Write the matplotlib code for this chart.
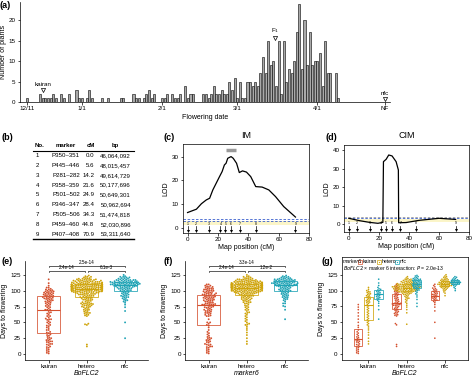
import warnings
import matplotlib
matplotlib.use("Agg")
import matplotlib.pyplot as plt
import pandas as pd
import seaborn as sns
from matplotlib.lines import Line2D

warnings.filterwarnings("ignore")
plt.rcParams["font.family"] = ["Liberation Sans", "DejaVu Sans"]

# (a) number of plants per flowering day (day 0 = 12/11)
n_plants = [1, 0, 0, 0, 0, 2, 1, 1, 1, 1, 2, 1, 0, 2, 1, 0, 2, 0, 0, 3,
            1, 1, 0, 1, 3, 1, 0, 0, 0, 1, 0, 1, 0, 0, 0, 0, 1, 1, 0, 0,
            0, 2, 1, 1, 0, 1, 2, 3, 1, 2, 0, 0, 1, 1, 2, 0, 2, 1, 1, 2,
            0, 4, 1, 2, 2, 0, 0, 0, 2, 2, 1, 2, 4, 2, 2, 3, 2, 2, 5, 3,
            6, 1, 5, 1, 1, 5, 5, 4, 5, 4, 7, 11, 7, 15, 9, 10, 4, 15, 2, 15,
            5, 8, 7, 10, 17, 24, 8, 20, 9, 17, 9, 10, 10, 12, 4, 15, 7, 7, 0, 7,
            1]
date_labels = ["12/11", "1/1", "2/1", "3/1", "4/1", "NF"]
date_days = [0, 21, 52, 81, 112, 138]
parent_names = ["kairan", "F$_1$", "nfc"]
parent_days = [6, 95.5, 138]
parent_marks = [3.0, 15.6, 0.9]

# (b) marker table
tab_no = ["1", "2", "3", "4", "5", "6", "7", "8", "9"]
tab_marker = ["P350\u2013351", "P445\u2013446", "P281\u2013282", "P358\u2013359", "P501\u2013502",
              "P346\u2013347", "P505\u2013506", "P459\u2013460", "P407\u2013408"]
tab_cm = [0.0, 5.6, 14.2, 21.6, 24.9, 28.4, 34.3, 44.8, 70.9]
tab_bp = ["46,064,092", "48,015,457", "49,614,729", "50,177,696", "50,649,301",
          "50,962,694", "51,474,818", "52,030,896", "53,311,640"]

# (c) interval mapping, (d) composite interval mapping
im_cm = [0, 5.8, 9.1, 12.3, 14.5, 16.6, 18.8, 21.0, 22.7, 24.2, 25.3, 26.4, 28.6, 30.0,
         32.2, 34.0, 36.1, 38.7, 41.5, 44.8, 49.0, 53.4, 57.8, 63.2, 70.9]
im_lod = [6.5, 7.9, 10.2, 11.8, 12.5, 16.0, 18.8, 21.6, 23.7, 26.5, 27.2, 29.3, 30.0, 29.3,
          27.2, 23.3, 24.0, 23.5, 21.6, 17.4, 17.2, 16.0, 13.2, 9.0, 4.6]
cim_cm = [0, 7.2, 13.8, 19.3, 22.6, 23.0, 24.8, 26.5, 28.7, 31.4, 32.9, 33.1, 38.0, 46.7, 59.9, 70.9]
cim_lod = [3.1, 1.8, 0.9, 0.4, 0.9, 33.7, 35.0, 37.3, 36.8, 33.7, 29.2, 0.7, 0.8, 2.0, 3.1, 2.5]
qtl_interval = [25.3, 31.8]

# (e)-(g) days to flowering, by BoFLC2 genotype x marker6 genotype
genotypes = ["kairan", "hetero", "nfc"]
days_k_k = [1, 2, 4, 5, 7, 8, 10, 11, 12, 14, 15, 16, 18, 19, 20, 21, 22, 23, 24, 26,
            27, 29, 31, 33, 35, 38, 42, 45, 50, 55, 60, 65, 70, 74, 78]
days_k_h = [16, 20, 25, 30, 34, 38, 41, 44, 46, 48, 50, 52, 54, 56, 58, 60, 62, 64, 66, 68,
            70, 72, 74, 76, 78, 80, 81, 82, 83, 84, 85, 86, 87, 88, 89, 90, 91, 92, 93, 94,
            95, 96, 97, 98, 99, 100, 102, 105]
days_k_n = [55, 70, 76, 80, 83, 85, 87, 88, 89, 90, 91, 92, 93, 94, 95, 96, 97, 98, 99, 100,
            101, 102, 103, 105, 108, 112, 118]
days_h_k = [12, 15, 46, 48, 60, 61, 62, 63, 64, 65, 66, 67, 68, 69, 70, 71, 72, 73, 74, 75,
            76, 77, 77, 78, 78, 79, 79, 80, 80, 81, 82, 83, 84, 85, 86, 87, 88, 89, 90, 91,
            92, 93, 94, 95, 96, 97, 98, 99, 100, 101, 102, 103, 104, 105, 106, 107, 108, 110]
days_h_h = [47, 65, 70, 74, 77, 80, 82, 84, 86, 87, 88, 89, 90, 91, 92, 93, 94, 94, 95, 95,
            96, 96, 97, 97, 97, 98, 98, 98, 98, 99, 99, 99, 99, 100, 100, 100, 100, 100,
            101, 101, 101, 101, 101, 102, 102, 102, 102, 102, 103, 103, 103, 103, 103,
            104, 104, 104, 104, 104, 104, 105, 105, 105, 105, 105, 105, 106, 106, 106, 106, 106, 106,
            107, 107, 107, 107, 107, 107, 108, 108, 108, 108, 108, 109, 109, 109, 109, 109,
            110, 110, 110, 110, 110, 111, 111, 111, 111, 112, 112, 112, 112, 113, 113, 113,
            114, 114, 114, 115, 115, 115, 116, 116, 117, 117, 118, 118, 119, 120, 122]
days_h_n = [75, 80, 86, 90, 93, 95, 97, 99, 100, 101, 102, 103, 104, 105, 106, 106, 107, 107, 108, 108,
            109, 109, 110, 110, 110, 111, 111, 112, 112, 113, 113, 114, 114, 115, 115, 116, 116, 117,
            117, 118, 118, 119, 119, 120, 121, 122, 123, 124]
days_n_k = [25, 50, 68, 74, 78, 81, 83, 84, 85, 86, 87, 88, 89, 90, 90, 91, 92, 93, 94, 94,
            95, 96, 97, 98, 99, 100, 101, 102, 103, 104, 106, 108, 110]
days_n_h = [92, 96, 98, 100, 101, 102, 103, 104, 104, 105, 105, 106, 106, 107, 107, 107, 108, 108,
            108, 109, 109, 109, 110, 110, 110, 110, 111, 111, 111, 112, 112, 112, 113, 113, 113,
            114, 114, 114, 115, 115, 116, 116, 117, 117, 118, 118, 119, 120, 121, 122, 123, 125]
days_n_n = [100, 103, 105, 107, 108, 109, 110, 110, 111, 111, 112, 112, 113, 113, 113, 114, 114,
            115, 115, 116, 116, 117, 117, 118, 119, 120, 121, 122]
p_boflc2 = ["2.5e-14", "2.4e-14", "6.1e-3"]
p_marker6 = ["3.3e-14", "2.4e-14", "1.2e-2"]
p_interaction = "2.0e-13"

colors = {"kairan": "#D4502E", "hetero": "#CFA40A", "nfc": "#1FA3B5"}

W, H = 474, 378
fig = plt.figure(figsize=(W / 100, H / 100), dpi=100)

TICK = 4.5
LAB = 5.0
PANEL = 6.5


def px_axes(l, t, r, b):
    return fig.add_axes([l / W, 1 - b / H, (r - l) / W, (b - t) / H])


def ftext(x, y, s, **kw):
    fig.text(x / W, 1 - y / H, s, **kw)


def style(ax):
    ax.tick_params(labelsize=TICK, length=1.8, width=0.5, pad=1.2)
    for sp in ax.spines.values():
        sp.set_linewidth(0.5)


# ---------- (a) histogram
ax = px_axes(19.5, 2.3, 390, 102.3)
ax.bar(range(len(n_plants)), n_plants, width=0.78, color="#a9a9a9",
       edgecolor="black", linewidth=0.4)
ax.set_xlim(-3, 140)
ax.set_ylim(0, 24.3)
ax.set_xticks(date_days)
ax.set_xticklabels(date_labels)
ax.set_yticks([0, 5, 10, 15, 20])
ax.spines["top"].set_visible(False)
ax.spines["right"].set_visible(False)
style(ax)
ax.set_xlabel("Flowering date", fontsize=LAB, labelpad=1.5)
ax.set_ylabel("Number of plants", fontsize=LAB, labelpad=1.0)
for name, d, m in zip(parent_names, parent_days, parent_marks):
    ax.plot(d, m, marker="v", ms=3, mfc="white", mec="black", mew=0.5, clip_on=False)
    ax.text(d, m + 0.7, name, ha="center", va="bottom", fontsize=TICK)
ftext(0, 5, "(a)", fontsize=PANEL, fontweight="bold", va="center")

# ---------- (b) table
ftext(2, 138, "(b)", fontsize=PANEL, fontweight="bold", va="center")
TB = 4.4
hy = 145.7
ftext(40, hy, "No.", fontsize=TB, fontweight="bold", ha="center", va="center")
ftext(66, hy, "marker", fontsize=TB, fontweight="bold", ha="center", va="center")
ftext(91, hy, "cM", fontsize=TB, fontweight="bold", ha="center", va="center")
ftext(115, hy, "bp", fontsize=TB, fontweight="bold", ha="center", va="center")
for i in range(len(tab_no)):
    y = 155.7 + i * 9.8
    ftext(37.5, y, tab_no[i], fontsize=TB, ha="center", va="center")
    ftext(66, y, tab_marker[i], fontsize=TB, ha="center", va="center")
    ftext(94.5, y, "%.1f" % tab_cm[i], fontsize=TB, ha="right", va="center")
    ftext(131, y, tab_bp[i], fontsize=TB, ha="right", va="center")
fig.add_artist(Line2D([33 / W, 134 / W], [1 - 150.7 / H] * 2, color="black", lw=0.8))
fig.add_artist(Line2D([33 / W, 134 / W], [1 - 238.5 / H] * 2, color="black", lw=1.0))


# ---------- (c), (d) LOD profiles
def lod_panel(ax, cm, lod, ylim, thr, band, arrow_top, arrow_bot, num_y):
    ax.axhspan(band[0], band[1], color="#fbf5c8", lw=0, zorder=0)
    for t, c in thr:
        ax.axhline(t, color=c, lw=0.6, ls=(0, (3, 2)), zorder=1)
    ax.plot(cm, lod, color="black", lw=0.9, zorder=3)
    for i, c in enumerate(tab_cm):
        ax.plot([c, c], [arrow_top, arrow_bot], color="black", lw=0.5, zorder=4)
        ax.plot(c, arrow_bot, marker="v", ms=2.2, color="black", mew=0, zorder=4)
        ax.text(c, num_y, tab_no[i], fontsize=2.5, ha="center", va="bottom")
    ax.set_xlim(-3.2, 80)
    ax.set_ylim(*ylim)
    ax.set_xticks([0, 20, 40, 60, 80])
    style(ax)
    ax.set_xlabel("Map position (cM)", fontsize=LAB, labelpad=1)
    ax.set_ylabel("LOD", fontsize=LAB, labelpad=1.5)


ax = px_axes(182.7, 144, 309.3, 233)
lod_panel(ax, im_cm, im_lod, (-2.1, 35.3),
          [(3.9, "#3a5fcd"), (3.0, "#3a5fcd")], (1.2, 2.8), 0.9, -1.3, 0.9)
ax.set_yticks([0, 10, 20, 30])
ax.plot(qtl_interval, [32.6, 32.6], color="#9a9a9a", lw=2.5, solid_capstyle="butt")
ax.set_title("IM", fontsize=PANEL, pad=4)
ftext(163, 138, "(c)", fontsize=PANEL, fontweight="bold", va="center")

ax = px_axes(344, 145, 469.3, 232)
lod_panel(ax, cim_cm, cim_lod, (-4.3, 42.7),
          [(3.9, "#9a9a9a"), (3.2, "#3a5fcd")], (1.0, 2.9), -0.8, -3.3, -0.6)
ax.set_yticks([0, 10, 20, 30, 40])
ax.set_title("CIM", fontsize=PANEL, pad=5)
ftext(325, 138, "(d)", fontsize=PANEL, fontweight="bold", va="center")

# ---------- (e)-(g) swarm + box plots
cells = {("kairan", "kairan"): days_k_k, ("kairan", "hetero"): days_k_h, ("kairan", "nfc"): days_k_n,
         ("hetero", "kairan"): days_h_k, ("hetero", "hetero"): days_h_h, ("hetero", "nfc"): days_h_n,
         ("nfc", "kairan"): days_n_k, ("nfc", "hetero"): days_n_h, ("nfc", "nfc"): days_n_n}
rows = []
for (g1, g2), vals in cells.items():
    for v in vals:
        rows.append({"BoFLC2": g1, "marker6": g2, "days": v})
df = pd.DataFrame(rows)


def draw_box(ax, vals, pos, width, color):
    bp = ax.boxplot([vals], positions=[pos], widths=width, showfliers=False,
                    whis=0, showcaps=False, patch_artist=True, manage_ticks=False)
    for b in bp["boxes"]:
        b.set(facecolor="none", edgecolor=color, linewidth=0.55)
    for m in bp["medians"]:
        m.set(color=color, linewidth=0.8)
    for w in bp["whiskers"]:
        w.set(linewidth=0)
    for b in bp["boxes"] + bp["medians"]:
        b.set_zorder(4)


def swarm_axes(ax, xlabel, ylabel):
    ax.set_xlim(-0.62, 2.6)
    ax.set_ylim(-9.4, 147)
    ax.set_yticks([0, 25, 50, 75, 100, 125])
    ax.set_xticks([0, 1, 2])
    ax.set_xticklabels(genotypes)
    ax.spines["top"].set_visible(False)
    ax.spines["right"].set_visible(False)
    style(ax)
    ax.set_xlabel(xlabel, fontsize=LAB, style="italic", labelpad=0.8)
    ax.set_ylabel(ylabel, fontsize=LAB, labelpad=1.5)


def brackets(ax, labels):
    spans = [(0, 2, 139.5), (0, 0.96, 131), (1.04, 2, 131)]
    for (x0, x1, y), lab in zip(spans, labels):
        ax.plot([x0, x0, x1, x1], [y - 1.5, y, y, y - 1.5], color="black", lw=0.45, clip_on=False)
        ax.text((x0 + x1) / 2, y + 1.0, lab, fontsize=3.3, ha="center", va="bottom")


for key, label, left, lx in [("BoFLC2", "(e)", 25, 1), ("marker6", "(f)", 185, 163)]:
    ax = px_axes(left, 261, left + 123, 360)
    sns.swarmplot(data=df, x=key, y="days", order=genotypes, hue=key, hue_order=genotypes,
                  palette=colors, size=1.35, ax=ax, legend=False, zorder=3)
    for i, g in enumerate(genotypes):
        draw_box(ax, df.loc[df[key] == g, "days"].values, i, 0.6, colors[g])
    swarm_axes(ax, key, "Days to flowering")
    brackets(ax, p_boflc2 if key == "BoFLC2" else p_marker6)
    ftext(lx, 262, label, fontsize=PANEL, fontweight="bold", va="center")

ax = px_axes(341.7, 257, 468, 360)
sns.swarmplot(data=df, x="BoFLC2", y="days", order=genotypes, hue="marker6",
              hue_order=genotypes, dodge=True, palette=colors, size=1.2, ax=ax,
              legend=False, zorder=3)
offs = [-0.267, 0, 0.267]
for i, g1 in enumerate(genotypes):
    for j, g2 in enumerate(genotypes):
        draw_box(ax, cells[(g1, g2)], i + offs[j], 0.22, colors[g2])
swarm_axes(ax, "BoFLC2", "Days to flowering")
ax.set_xlim(-0.7, 2.6)
ax.set_ylim(-9.4, 153)
ax.spines["top"].set_visible(True)
ax.spines["right"].set_visible(True)
ftext(322, 262, "(g)", fontsize=PANEL, fontweight="bold", va="center")
LG = 3.7
ftext(343, 261.5, "marker6", fontsize=LG, style="italic", va="center")
for g, x in zip(genotypes, [360, 379, 397]):
    fig.add_artist(Line2D([x / W], [1 - 261.5 / H], marker="s", ms=2.6, mfc="white",
                          mec=colors[g], mew=0.5, ls="none"))
    fig.add_artist(Line2D([x / W], [1 - 261.5 / H], marker="o", ms=0.9, mfc=colors[g],
                          mec="none", ls="none"))
    ftext(x + 3, 261.5, g, fontsize=LG, va="center")
ftext(343, 267.5, "$\\it{BoFLC2}$ \u00d7 marker 6 interaction: $\\it{P}$ = " + p_interaction,
      fontsize=LG, va="center")

fig.savefig("out.png", dpi=100)
